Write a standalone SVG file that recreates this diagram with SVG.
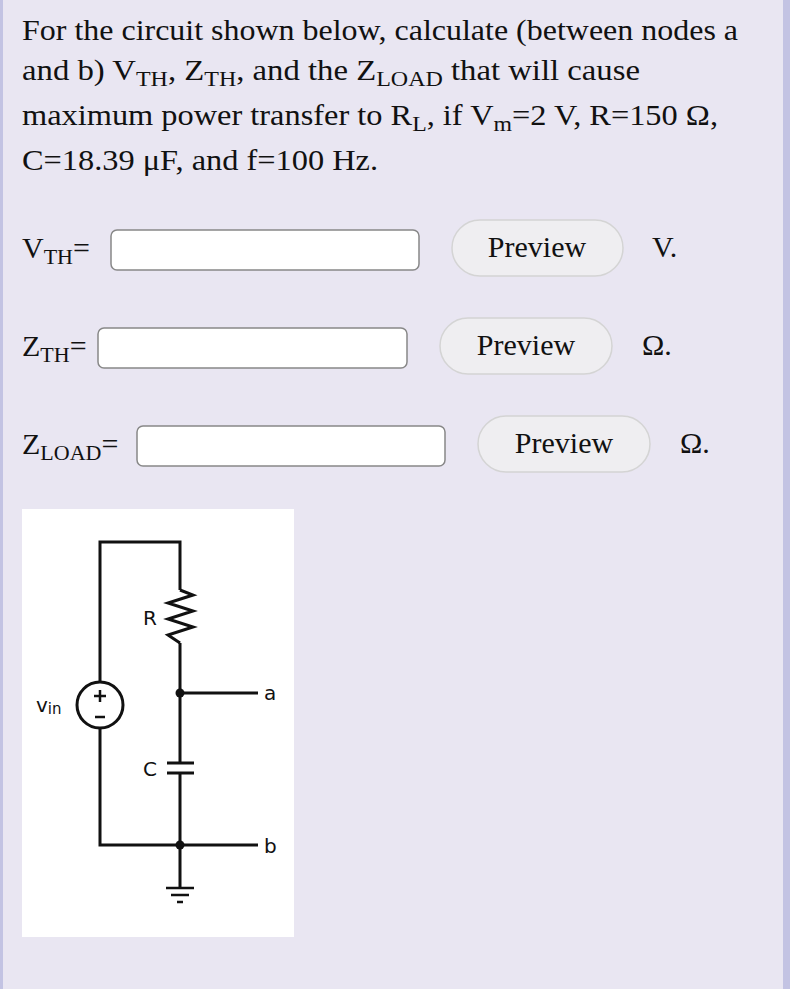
<svg xmlns="http://www.w3.org/2000/svg" width="790" height="989" viewBox="0 0 790 989">
<style>
.t{font-family:"Liberation Serif",serif;font-size:30px;fill:#111}
.s{font-size:22px}
.box{fill:#fff;stroke:#888;stroke-width:1.5}
.btn{fill:#efeef1;stroke:#d4d4d4;stroke-width:1.5}
.w{fill:none;stroke:#111;stroke-width:3;stroke-linejoin:miter}
.l{font-family:"DejaVu Sans",sans-serif;font-size:20px;fill:#111}
</style>
<rect width="790" height="989" fill="#e9e6f2"/>
<rect x="0" y="0" width="3" height="989" fill="#c3c3e3"/>
<rect x="783" y="0" width="7" height="989" fill="#c3c3e3"/>
<g id="question">
<text class="t" x="22" y="40" textLength="716" lengthAdjust="spacingAndGlyphs">For the circuit shown below, calculate (between nodes a</text>
<text class="t" x="22" y="80" textLength="618" lengthAdjust="spacingAndGlyphs">and b) V<tspan class="s" dy="6">TH</tspan><tspan dy="-6">, Z</tspan><tspan class="s" dy="6">TH</tspan><tspan dy="-6">, and the Z</tspan><tspan class="s" dy="6">LOAD</tspan><tspan dy="-6"> that will cause</tspan></text>
<text class="t" x="22" y="125" textLength="696" lengthAdjust="spacingAndGlyphs">maximum power transfer to R<tspan class="s" dy="6">L</tspan><tspan dy="-6">,  if V</tspan><tspan class="s" dy="6">m</tspan><tspan dy="-6">=2 V, R=150 Ω,</tspan></text>
<text class="t" x="22" y="170" textLength="356" lengthAdjust="spacingAndGlyphs">C=18.39 μF, and f=100 Hz.</text>
</g>
<g id="row-vth">
<text class="t" x="22" y="258">V<tspan class="s" dy="6">TH</tspan><tspan dy="-6">=</tspan></text>
<rect class="box" x="111" y="230" width="308" height="40" rx="6"/>
<rect class="btn" x="452" y="220" width="171" height="56" rx="28"/>
<text class="t" x="537" y="257" text-anchor="middle">Preview</text>
<text class="t" x="652" y="257">V.</text>
</g>
<g id="row-zth">
<text class="t" x="22" y="356">Z<tspan class="s" dy="6">TH</tspan><tspan dy="-6">=</tspan></text>
<rect class="box" x="98" y="328" width="309" height="40" rx="6"/>
<rect class="btn" x="440" y="318" width="172" height="56" rx="28"/>
<text class="t" x="526" y="355" text-anchor="middle">Preview</text>
<text class="t" x="642" y="355">Ω.</text>
</g>
<g id="row-zload">
<text class="t" x="22" y="454">Z<tspan class="s" dy="6">LOAD</tspan><tspan dy="-6">=</tspan></text>
<rect class="box" x="137" y="426" width="308" height="40" rx="6"/>
<rect class="btn" x="478" y="416" width="172" height="56" rx="28"/>
<text class="t" x="564" y="453" text-anchor="middle">Preview</text>
<text class="t" x="680" y="453">Ω.</text>
</g>
<rect x="22" y="509" width="272" height="428" fill="#fff"/>
<g id="connectors">
<path class="w" d="M100 682 V542 H180 V590"/>
<path class="w" d="M180 643 V763 M180 773 V888"/>
<path class="w" d="M100 728 V845 H258"/>
<path class="w" d="M180 693 H258"/>
</g>
<g id="resistor">
<path class="w" d="M180 590 L193 595 L168 603 L193 611 L168 619 L193 627 L168 635 L180 643"/>
<text class="l" x="143" y="625">R</text>
</g>
<g id="capacitor">
<path class="w" d="M167 763 H194 M167 773 H194"/>
<text class="l" x="143" y="776">C</text>
</g>
<g id="source">
<circle cx="100" cy="705" r="23" fill="#fff" stroke="#111" stroke-width="3"/>
<path d="M100 690 V702 M94 696 H106 M95 717 H105" stroke="#111" stroke-width="2.5"/>
<text class="l" x="36" y="712" font-size="18">v<tspan font-size="15" dy="2">in</tspan></text>
</g>
<g id="node-a"><circle cx="180" cy="693" r="4.5" fill="#111"/><text class="l" x="264" y="700">a</text></g>
<g id="node-b"><circle cx="180" cy="845" r="4.5" fill="#111"/><text class="l" x="264" y="853">b</text></g>
<g id="ground"><path d="M166 888 H194 M171 895 H189 M177 902 H183" stroke="#111" stroke-width="2.5"/></g>
</svg>
